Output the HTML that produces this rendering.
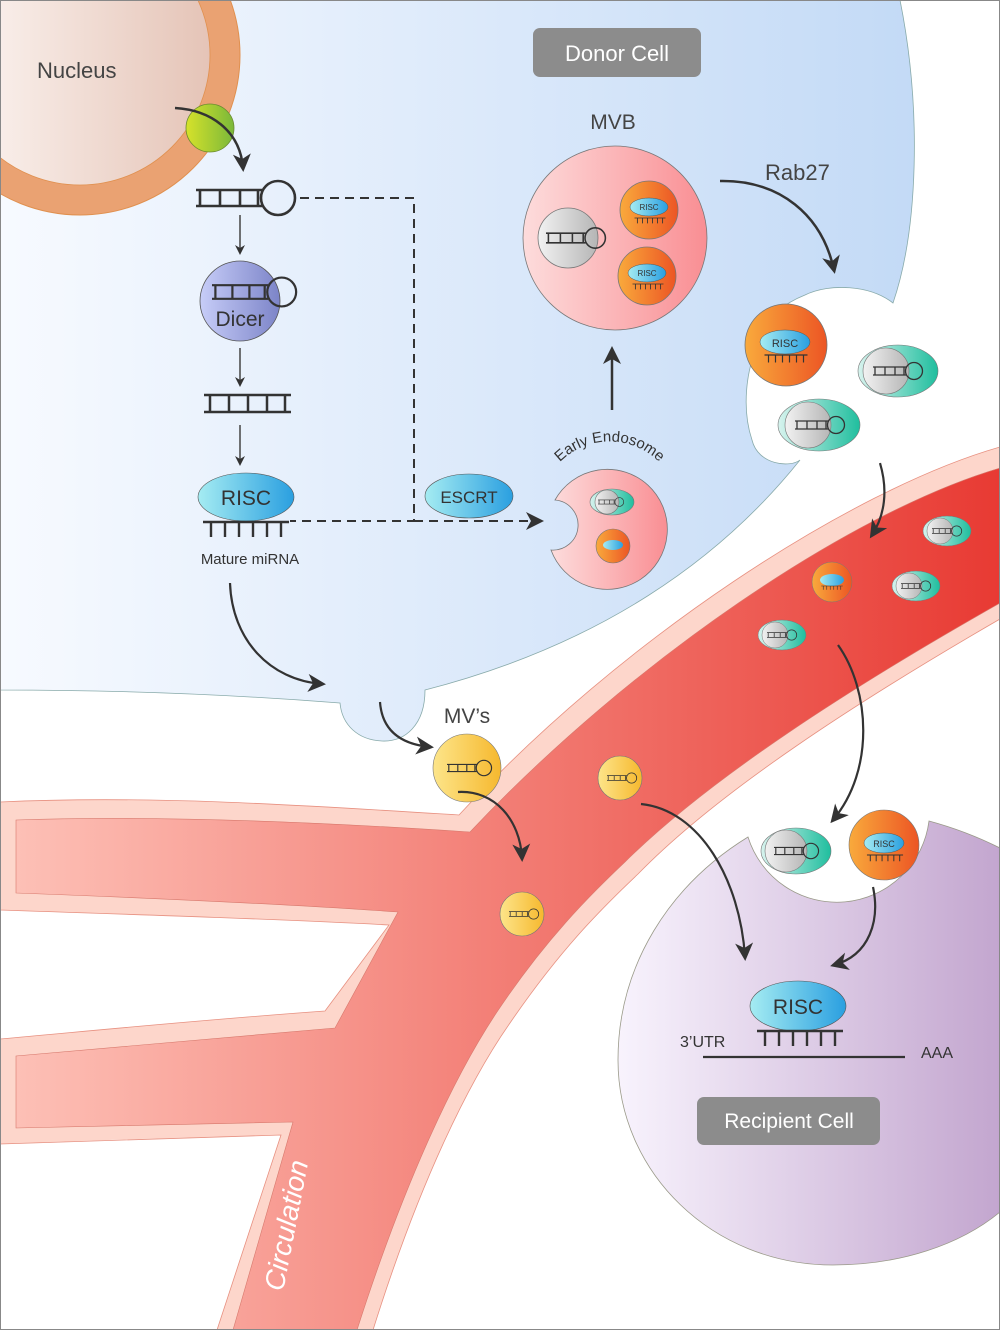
<!DOCTYPE html>
<html><head><meta charset="utf-8"><style>
html,body{margin:0;padding:0;background:#fff}
svg{display:block}
text{font-family:"Liberation Sans",sans-serif}
</style></head><body>
<svg width="1000" height="1330" viewBox="0 0 1000 1330" xmlns="http://www.w3.org/2000/svg">
<defs>
<linearGradient id="cell" x1="0" x2="1"><stop offset="0" stop-color="#f7faff"/><stop offset="1" stop-color="#c3daf6"/></linearGradient>
<linearGradient id="nuc" x1="0" x2="1"><stop offset="0" stop-color="#fdf7f4"/><stop offset="1" stop-color="#e5c4b7"/></linearGradient>
<linearGradient id="pore" x1="0" x2="1"><stop offset="0" stop-color="#d6e22a"/><stop offset="1" stop-color="#7ab83a"/></linearGradient>
<linearGradient id="ves" x1="0" x2="1"><stop offset="0" stop-color="#fddcdc"/><stop offset="1" stop-color="#f98e93"/></linearGradient>
<linearGradient id="org" x1="0" x2="1"><stop offset="0" stop-color="#f9aa3c"/><stop offset="1" stop-color="#ec5524"/></linearGradient>
<linearGradient id="blu" x1="0" x2="1"><stop offset="0" stop-color="#a5ecf2"/><stop offset="1" stop-color="#2a9fe0"/></linearGradient>
<linearGradient id="gry" x1="0" x2="1"><stop offset="0" stop-color="#f2f2f2"/><stop offset="1" stop-color="#b5b5b5"/></linearGradient>
<linearGradient id="grn" x1="0" x2="1"><stop offset="0" stop-color="#d7f3ee"/><stop offset="1" stop-color="#1fbe9e"/></linearGradient>
<linearGradient id="ylw" x1="0" x2="1"><stop offset="0" stop-color="#fde58a"/><stop offset="1" stop-color="#f6b82e"/></linearGradient>
<linearGradient id="dic" x1="0" x2="1"><stop offset="0" stop-color="#c7cdf8"/><stop offset="1" stop-color="#7c84c8"/></linearGradient>
<linearGradient id="red" x1="0" x2="1"><stop offset="0" stop-color="#fdc0b6"/><stop offset="1" stop-color="#e83a33"/></linearGradient>
<linearGradient id="pur" x1="0" x2="1"><stop offset="0" stop-color="#f8f3fd"/><stop offset="1" stop-color="#c3a6cf"/></linearGradient>
<marker id="ah" markerWidth="10" markerHeight="10" refX="7" refY="5" orient="auto" markerUnits="userSpaceOnUse"><path d="M0,0 L10,5 L0,10 L3,5Z" fill="#333"/></marker>
<marker id="ahb" markerWidth="18" markerHeight="18" refX="14" refY="9" orient="auto" markerUnits="userSpaceOnUse"><path d="M0,0 L18,9 L0,18 L5,9Z" fill="#333"/></marker>
<g id="hp" fill="none" stroke="#333" stroke-width="2.6"><path d="M0,-8H66M0,8H66M4,-8V8M24,-8V8M44,-8V8M62,-8V8"/><circle cx="82" cy="0" r="17"/></g>
<g id="strand" fill="none" stroke="#333" stroke-width="2.4"><path d="M-43,0H43M-35,0V15M-21,0V15M-7,0V15M7,0V15M21,0V15M35,0V15"/></g>
</defs>

<rect x="0" y="0" width="1000" height="1330" fill="#fff"/>
<path d="M0,0 H900 C922,110 918,230 893,303 C870,285 830,283 805,295 C780,305 765,320 760,340 C745,370 742,410 752,440 C758,465 790,468 800,460 C720,560 600,645 425,690 C425,725 405,742 382,741 C358,740 342,725 340,703 C200,692 80,690 0,690 Z" fill="url(#cell)" stroke="#8aa" stroke-width="0.8"/>
<circle cx="80" cy="55" r="160" fill="#eaa272" stroke="#e0904f"/>
<circle cx="80" cy="55" r="130" fill="url(#nuc)" stroke="#e0904f" stroke-width="0.8"/>
<text x="37" y="78" font-size="22" fill="#444">Nucleus</text>
<circle cx="210" cy="128" r="24" fill="url(#pore)" stroke="#6a8a30" stroke-width="0.8"/>
<path d="M175,108 C210,110 240,130 243,168" fill="none" stroke="#333" stroke-width="2.5" marker-end="url(#ahb)"/>

<path d="M1000,447 C850,490 620,640 459,815 C300,805 150,795 0,802 V910 C150,915 300,920 389,925 L325,1011 C200,1020 100,1030 0,1039 V1144 C100,1140 200,1137 281,1135 L217,1330 H373 C420,1180 470,1080 510,1023 C560,950 600,910 638,874 C720,790 860,700 1000,619 Z" fill="#fdd6cb" stroke="#e79080" stroke-width="0.8"/>
<path d="M1000,468 C850,512 630,662 470,832 C320,822 160,815 16,820 V893 C150,898 300,905 398,912 L335,1028 C220,1038 110,1048 16,1056 V1128 C110,1126 200,1124 293,1122 L233,1330 H357 C405,1180 455,1075 497,1012 C545,940 590,895 625,862 C710,778 850,688 1000,603 Z" fill="url(#red)" stroke="#d7786c" stroke-width="0.6"/>
<text transform="translate(283,1292) rotate(-79)" font-size="28" fill="#fff" font-style="italic">Circulation</text>

<path d="M748,837 A93,93 0 0 0 929,821 C955,828 980,838 1000,848 V1212 C960,1245 900,1265 833,1265 C712,1265 618,1172 618,1060 C618,965 670,885 748,837 Z" fill="url(#pur)" stroke="#998" stroke-width="0.8"/>

<rect x="533" y="28" width="168" height="49" rx="7" fill="#8c8c8c"/>
<text x="617" y="61" font-size="22" fill="#fff" text-anchor="middle">Donor Cell</text>
<text x="613" y="129" font-size="21" fill="#444" text-anchor="middle">MVB</text>

<use href="#hp" transform="translate(196,198)"/>
<path d="M300,198 H414 V521 H290" fill="none" stroke="#333" stroke-width="2" stroke-dasharray="9,6"/>
<path d="M414,521 H540" fill="none" stroke="#333" stroke-width="2" stroke-dasharray="9,6" marker-end="url(#ahb)"/>
<path d="M240,215 V252" stroke="#444" stroke-width="1.5" marker-end="url(#ah)"/>
<circle cx="240" cy="301" r="40" fill="url(#dic)" stroke="#555" stroke-width="0.8"/>
<use href="#hp" transform="translate(212,292) scale(0.85)"/>
<text x="240" y="326" font-size="21" fill="#333" text-anchor="middle">Dicer</text>
<path d="M240,348 V384" stroke="#444" stroke-width="1.5" marker-end="url(#ah)"/>
<path d="M204,395H291M204,412H291M210,395V412M229,395V412M248,395V412M267,395V412M285,395V412" fill="none" stroke="#333" stroke-width="2.5"/>
<path d="M240,425 V463" stroke="#444" stroke-width="1.5" marker-end="url(#ah)"/>
<ellipse cx="246" cy="497" rx="48" ry="24" fill="url(#blu)" stroke="#555" stroke-width="0.6"/>
<text x="246" y="505" font-size="21" fill="#333" text-anchor="middle">RISC</text>
<use href="#strand" transform="translate(246,522)"/>
<text x="250" y="564" font-size="15" fill="#333" text-anchor="middle">Mature miRNA</text>
<ellipse cx="469" cy="496" rx="44" ry="22" fill="url(#blu)" stroke="#555" stroke-width="0.6"/>
<text x="469" y="503" font-size="17" fill="#333" text-anchor="middle">ESCRT</text>

<path d="M230,583 C232,640 270,680 322,684" fill="none" stroke="#333" stroke-width="2.2" marker-end="url(#ahb)"/>
<path d="M380,702 C382,730 400,744 430,747" fill="none" stroke="#333" stroke-width="2.2" marker-end="url(#ahb)"/>

<path d="M555,500 A60,60 0 1 1 551,550 A22,22 0 0 0 555,500 Z" fill="url(#ves)" stroke="#777" stroke-width="0.8"/>
<path id="arc" d="M560,462 A70,70 0 0 1 666,470" fill="none"/>
<text font-size="15" fill="#333"><textPath href="#arc">Early Endosome</textPath></text>
<ellipse cx="612" cy="502" rx="22" ry="13" fill="url(#grn)" stroke="#777" stroke-width="0.6"/>
<circle cx="607" cy="502" r="12" fill="url(#gry)" stroke="#777" stroke-width="0.6"/>
<use href="#hp" transform="translate(598,502) scale(0.26)"/>
<circle cx="613" cy="546" r="17" fill="url(#org)" stroke="#777" stroke-width="0.6"/>
<ellipse cx="613" cy="545" rx="10" ry="5" fill="url(#blu)"/>
<path d="M612,410 V350" stroke="#333" stroke-width="2.5" marker-end="url(#ahb)"/>

<circle cx="615" cy="238" r="92" fill="url(#ves)" stroke="#777" stroke-width="0.8"/>
<circle cx="568" cy="238" r="30" fill="url(#gry)" stroke="#777" stroke-width="0.8"/>
<use href="#hp" transform="translate(546,238) scale(0.6)"/>
<circle cx="649" cy="210" r="29" fill="url(#org)" stroke="#777" stroke-width="0.8"/>
<ellipse cx="649" cy="207" rx="19" ry="9" fill="url(#blu)" stroke="#555" stroke-width="0.5"/>
<text x="649" y="210" font-size="8" fill="#333" text-anchor="middle">RISC</text>
<use href="#strand" transform="translate(650,218) scale(0.36)"/>
<circle cx="647" cy="276" r="29" fill="url(#org)" stroke="#777" stroke-width="0.8"/>
<ellipse cx="647" cy="273" rx="19" ry="9" fill="url(#blu)" stroke="#555" stroke-width="0.5"/>
<text x="647" y="276" font-size="8" fill="#333" text-anchor="middle">RISC</text>
<use href="#strand" transform="translate(648,284) scale(0.36)"/>

<text x="765" y="180" font-size="22" fill="#444">Rab27</text>
<path d="M720,181 C780,180 822,215 834,270" fill="none" stroke="#333" stroke-width="2.5" marker-end="url(#ahb)"/>

<circle cx="786" cy="345" r="41" fill="url(#org)" stroke="#777" stroke-width="0.8"/>
<ellipse cx="785" cy="342" rx="25" ry="12" fill="url(#blu)" stroke="#555" stroke-width="0.5"/>
<text x="785" y="347" font-size="11" fill="#333" text-anchor="middle">RISC</text>
<use href="#strand" transform="translate(786,355) scale(0.5)"/>
<ellipse cx="898" cy="371" rx="40" ry="26" fill="url(#grn)" stroke="#777" stroke-width="0.6"/>
<circle cx="886" cy="371" r="23" fill="url(#gry)" stroke="#777" stroke-width="0.6"/>
<use href="#hp" transform="translate(873,371) scale(0.5)"/>
<ellipse cx="819" cy="425" rx="41" ry="26" fill="url(#grn)" stroke="#777" stroke-width="0.6"/>
<circle cx="808" cy="425" r="23" fill="url(#gry)" stroke="#777" stroke-width="0.6"/>
<use href="#hp" transform="translate(795,425) scale(0.5)"/>
<path d="M880,463 C888,490 885,515 872,535" fill="none" stroke="#333" stroke-width="2.2" marker-end="url(#ahb)"/>

<ellipse cx="947" cy="531" rx="24" ry="15" fill="url(#grn)" stroke="#777" stroke-width="0.5"/>
<circle cx="940" cy="531" r="13" fill="url(#gry)" stroke="#777" stroke-width="0.5"/>
<use href="#hp" transform="translate(932,531) scale(0.3)"/>
<ellipse cx="916" cy="586" rx="24" ry="15" fill="url(#grn)" stroke="#777" stroke-width="0.5"/>
<circle cx="909" cy="586" r="13" fill="url(#gry)" stroke="#777" stroke-width="0.5"/>
<use href="#hp" transform="translate(901,586) scale(0.3)"/>
<ellipse cx="782" cy="635" rx="24" ry="15" fill="url(#grn)" stroke="#777" stroke-width="0.5"/>
<circle cx="775" cy="635" r="13" fill="url(#gry)" stroke="#777" stroke-width="0.5"/>
<use href="#hp" transform="translate(767,635) scale(0.3)"/>
<circle cx="832" cy="582" r="20" fill="url(#org)" stroke="#777" stroke-width="0.5"/>
<ellipse cx="832" cy="580" rx="12" ry="6" fill="url(#blu)"/>
<use href="#strand" transform="translate(832,586) scale(0.25)"/>
<path d="M838,645 C870,690 875,770 833,820" fill="none" stroke="#333" stroke-width="2.2" marker-end="url(#ahb)"/>

<text x="467" y="723" font-size="21" fill="#444" text-anchor="middle">MV’s</text>
<circle cx="467" cy="768" r="34" fill="url(#ylw)" stroke="#777" stroke-width="0.6"/>
<use href="#hp" transform="translate(447,768) scale(0.45)"/>
<path d="M458,792 C495,790 520,820 522,858" fill="none" stroke="#333" stroke-width="2.2" marker-end="url(#ahb)"/>
<circle cx="522" cy="914" r="22" fill="url(#ylw)" stroke="#777" stroke-width="0.6"/>
<use href="#hp" transform="translate(509,914) scale(0.3)"/>
<circle cx="620" cy="778" r="22" fill="url(#ylw)" stroke="#777" stroke-width="0.6"/>
<use href="#hp" transform="translate(607,778) scale(0.3)"/>
<path d="M641,804 C700,810 740,880 745,957" fill="none" stroke="#333" stroke-width="2.2" marker-end="url(#ahb)"/>

<ellipse cx="796" cy="851" rx="35" ry="23" fill="url(#grn)" stroke="#777" stroke-width="0.6"/>
<circle cx="786" cy="851" r="21" fill="url(#gry)" stroke="#777" stroke-width="0.6"/>
<use href="#hp" transform="translate(774,851) scale(0.45)"/>
<circle cx="884" cy="845" r="35" fill="url(#org)" stroke="#777" stroke-width="0.6"/>
<ellipse cx="884" cy="843" rx="20" ry="10" fill="url(#blu)" stroke="#555" stroke-width="0.5"/>
<text x="884" y="847" font-size="9" fill="#333" text-anchor="middle">RISC</text>
<use href="#strand" transform="translate(885,855) scale(0.42)"/>
<path d="M873,887 C880,920 870,955 834,965" fill="none" stroke="#333" stroke-width="2.2" marker-end="url(#ahb)"/>

<ellipse cx="798" cy="1006" rx="48" ry="25" fill="url(#blu)" stroke="#555" stroke-width="0.6"/>
<text x="798" y="1014" font-size="21" fill="#333" text-anchor="middle">RISC</text>
<use href="#strand" transform="translate(800,1031)"/>
<path d="M703,1057 H905" stroke="#333" stroke-width="2.2"/>
<text x="680" y="1047" font-size="16" fill="#333">3’UTR</text>
<text x="921" y="1058" font-size="16" fill="#333">AAA</text>
<rect x="697" y="1097" width="183" height="48" rx="7" fill="#8c8c8c"/>
<text x="789" y="1128" font-size="21" fill="#fff" text-anchor="middle">Recipient Cell</text>

<rect x="0.5" y="0.5" width="999" height="1329" fill="none" stroke="#888" stroke-width="1"/>
</svg>
</body></html>
